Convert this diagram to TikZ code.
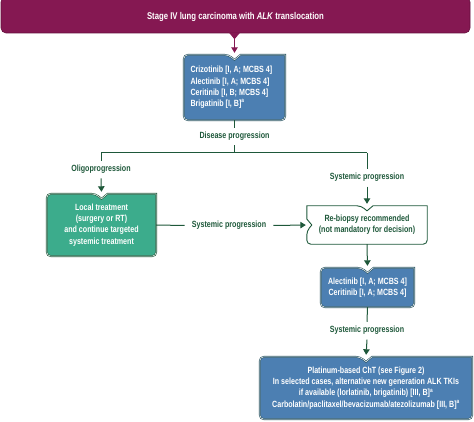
\documentclass[tikz,border=0pt]{standalone}
\usepackage{fontspec}
\setmainfont{Liberation Sans}[FakeStretch=0.79]
\usetikzlibrary{arrows.meta,backgrounds,calc}
\definecolor{mag}{RGB}{133,24,82}
\definecolor{magd}{RGB}{100,14,60}
\definecolor{bfill}{RGB}{76,127,178}
\definecolor{bedge}{RGB}{38,82,96}
\definecolor{gfill}{RGB}{60,172,140}
\definecolor{gdark}{RGB}{30,88,58}
% outline with a V notch on top
\newcommand\tnbox[2]{%
  \path[#2] ([yshift=-5pt]#1.north) -- ([xshift=6pt]#1.north) -- (#1.north east)
    [rounded corners=4pt] -- (#1.south east) -- (#1.south west) -- (#1.north west)
    -- ([xshift=-6pt]#1.north) [sharp corners] -- cycle;}
% outline with V notches on top and left
\newcommand\tlnbox[2]{%
  \path[#2] ([yshift=-5pt]#1.north) -- ([xshift=6pt]#1.north) -- (#1.north east)
    [rounded corners=4pt] -- (#1.south east) -- (#1.south west)
    -- ([yshift=-6pt]#1.west) [sharp corners] -- ([xshift=5pt]#1.west)
    -- ([yshift=6pt]#1.west) -- (#1.north west) [rounded corners=4pt]
    -- ([xshift=-6pt]#1.north) [sharp corners] -- cycle;}
\begin{document}
\begin{tikzpicture}[x=1pt,y=1pt,
  every node/.style={font=\fontsize{9}{11.3}\selectfont\bfseries, inner sep=0pt},
  txtw/.style={text=white, align=center},
  txtg/.style={text=gdark, align=center},
  lbl/.style={text=gdark, text height=6.5pt, text depth=2pt, inner ysep=4.5pt, inner xsep=7pt},
  bluebox/.style={fill=bfill, draw=bedge, double=white, double distance=0.5pt, line width=0.6pt},
  greenbox/.style={fill=gfill, draw=gdark, double=white, double distance=0.5pt, line width=0.6pt},
  whitebox/.style={fill=white, draw=gdark, line width=0.9pt},
  conn/.style={draw=gdark, line width=1pt},
  arr/.style={conn, -{Triangle[width=6.5pt,length=5.5pt]}, shorten >=2pt},
  banner/.style={fill=mag, draw=magd, line width=0.6pt, rounded corners=5pt, text=white,
    font=\fontsize{9.8}{12}\selectfont\bfseries}
]
\useasboundingbox (0,0) rectangle (474,421);

% banner
\node[banner, minimum width=469pt, minimum height=36pt, text height=10.5pt, text depth=2pt]
  (banner) at (235.5,406) {Stage IV lung carcinoma with \textit{ALK} translocation};

% boxes (text)
\node[txtw, minimum width=101pt, minimum height=65pt, text width=92pt, inner xsep=4.5pt, align=flush left]
  (b1) at (234.5,333.5) {\hspace*{2pt}Crizotinib [I, A; MCBS 4]\\\hspace*{2pt}Alectinib [I, A; MCBS 4]\\\hspace*{2pt}Ceritinib [I, B; MCBS 4]\\\hspace*{2pt}Brigatinib [I, B]\textsuperscript{a}};
\node[txtw, minimum width=109pt, minimum height=62pt]
  (loc) at (101.5,196) {Local treatment\\(surgery or RT)\\and continue targeted\\systemic treatment};
\node[txtg, minimum width=120pt, minimum height=38pt]
  (rb) at (367,196) {Re-biopsy recommended\\(not mandatory for decision)};
\node[txtw, minimum width=93pt, minimum height=39pt]
  (b2) at (367.5,133.5) {Alectinib [I, A; MCBS 4]\\Ceritinib [I, A; MCBS 4]};
\node[txtw, minimum width=212pt, minimum height=62pt]
  (b3) at (366,33) {Platinum-based ChT (see Figure 2)\\In selected cases, alternative new generation ALK TKIs\\if available (lorlatinib, brigatinib) [III, B]\textsuperscript{a}\\Carbolatin/paclitaxel/bevacizumab/atezolizumab [III, B]\textsuperscript{a}};

% labels
\node[lbl] (dp) at (234.5,284.5) {Disease progression};
\node[lbl] (oligo) at (101,251.5) {Oligoprogression};
\node[lbl] (sp2) at (367,243.3) {Systemic progression};
\node[lbl] (sp1) at (229,195.5) {Systemic progression};
\node[lbl] (sp3) at (367,90.3) {Systemic progression};

\coordinate (split) at (234.5,268);
\coordinate (lsplit) at (101,268);
\coordinate (rsplit) at (367,268);
\coordinate (bp) at (banner.south -| b1.north);

\begin{pgfonlayer}{background}
  \tnbox{b1}{bluebox}
  \tnbox{loc}{greenbox}
  \tlnbox{rb}{whitebox}
  \tnbox{b2}{bluebox}
  \tnbox{b3}{bluebox}
\end{pgfonlayer}

% banner pointer and arrow
\fill[mag] ([xshift=-5.5pt,yshift=0.6pt]bp) -- ([xshift=5.5pt,yshift=0.6pt]bp) -- ([yshift=-6pt]bp) -- cycle;
\draw[line width=1pt, draw=mag, -{Triangle[width=6.5pt,length=5.5pt]}, shorten >=2pt]
  ([yshift=-5pt]bp) -- (b1.north);

% connectors
\draw[conn] (b1.south) -- (dp.north);
\draw[conn] (dp.south) -- (split);
\draw[conn] (lsplit) -- (rsplit);
\draw[conn] (lsplit) -- (oligo.north);
\draw[arr] (oligo.south) -- (loc.north);
\draw[conn] (rsplit) -- (sp2.north);
\draw[arr] (sp2.south) -- (rb.north);
\draw[conn] (loc.east) -- (sp1.west);
\draw[arr, shorten >=1pt] (sp1.east) -- (rb.west);
\draw[arr] (rb.south) -- (b2.north);
\draw[conn] (b2.south) -- (sp3.north);
\draw[arr] (sp3.south) -- (b3.north);
\end{tikzpicture}
\end{document}
